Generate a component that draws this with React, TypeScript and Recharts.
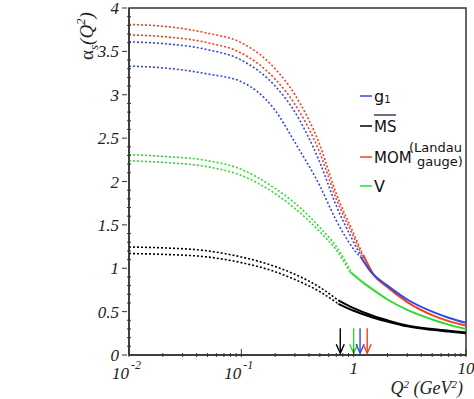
import { ComposedChart, Line, ReferenceArea, Scatter, XAxis, YAxis } from "recharts";

const BLUE = "#3348e0";
const RED = "#ef4023";
const GREEN = "#2edc2e";
const BLACK = "#000000";

// dotted (low Q^2) bands
const redDotX = [0.01, 0.02, 0.05, 0.1, 0.2, 0.3, 0.5, 0.7, 1.0, 1.22];
const redUpper = [3.81, 3.79, 3.71, 3.6, 3.3, 3.0, 2.42, 1.86, 1.4, 1.14];
const redLower = [3.69, 3.67, 3.6, 3.48, 3.18, 2.89, 2.33, 1.8, 1.36, 1.12];

const blueDotX = [0.01, 0.02, 0.05, 0.1, 0.2, 0.3, 0.5, 0.7, 1.0, 1.16];
const blueUpper = [3.61, 3.59, 3.52, 3.4, 3.1, 2.8, 2.22, 1.72, 1.3, 1.14];
const blueLower = [3.33, 3.31, 3.24, 3.15, 2.82, 2.45, 1.95, 1.55, 1.22, 1.12];

const greenDotX = [0.01, 0.02, 0.05, 0.1, 0.2, 0.3, 0.5, 0.7, 0.94];
const greenUpper = [2.31, 2.29, 2.24, 2.14, 1.92, 1.75, 1.47, 1.25, 0.97];
const greenLower = [2.24, 2.22, 2.17, 2.07, 1.86, 1.69, 1.42, 1.21, 0.94];

const blackDotX = [0.01, 0.02, 0.05, 0.1, 0.2, 0.3, 0.5, 0.73];
const blackUpper = [1.245, 1.235, 1.2, 1.13, 1.02, 0.93, 0.78, 0.63];
const blackLower = [1.17, 1.16, 1.13, 1.065, 0.96, 0.87, 0.73, 0.59];

// solid (high Q^2)
const redSolidX = [1.22, 1.5, 2, 3, 5, 7, 10];
const redSolid = [1.15, 0.93, 0.78, 0.61, 0.46, 0.39, 0.34];
const blueSolidX = [1.16, 1.42, 2, 3, 5, 7, 10];
const blueSolid = [1.13, 0.96, 0.8, 0.64, 0.5, 0.43, 0.37];
const greenSolidX = [0.94, 1.2, 1.5, 2, 3, 5, 7, 10];
const greenSolid = [0.955, 0.84, 0.75, 0.64, 0.52, 0.41, 0.35, 0.3];
const blackSolidX = [0.73, 1, 1.5, 2, 3, 5, 7, 10];
const blackSolidUp = [0.63, 0.54, 0.45, 0.4, 0.34, 0.3, 0.28, 0.26];
const blackSolidLo = [0.59, 0.51, 0.43, 0.385, 0.33, 0.29, 0.27, 0.25];

const arrowX = [0.76, 1.0, 1.14, 1.32];
const arrowColors = [BLACK, GREEN, BLUE, RED];

const xTicks = [
  0.01, 0.02, 0.03, 0.04, 0.05, 0.06, 0.07, 0.08, 0.09,
  0.1, 0.2, 0.3, 0.4, 0.5, 0.6, 0.7, 0.8, 0.9,
  1, 2, 3, 4, 5, 6, 7, 8, 9, 10,
];
const yTicks = [
  0, 0.1, 0.2, 0.3, 0.4, 0.5, 0.6, 0.7, 0.8, 0.9, 1, 1.1, 1.2, 1.3, 1.4, 1.5,
  1.6, 1.7, 1.8, 1.9, 2, 2.1, 2.2, 2.3, 2.4, 2.5, 2.6, 2.7, 2.8, 2.9, 3, 3.1,
  3.2, 3.3, 3.4, 3.5, 3.6, 3.7, 3.8, 3.9, 4,
];

const pts = (xs: number[], ys: number[]) => xs.map((x, i) => ({ x, y: ys[i] }));
const arrows = arrowX.map((x, i) => ({ x, y: 0.02, color: arrowColors[i] }));

const serif = "'Liberation Serif', 'DejaVu Serif', serif";

function XTick({ x, y, payload }: any) {
  const v = payload.value;
  const major = [0.01, 0.1, 1, 10].some((m) => Math.abs(v - m) < 1e-9);
  const exp = v === 0.01 ? "-2" : v === 0.1 ? "-1" : null;
  return (
    <g>
      <line x1={x} x2={x} y1={y} y2={y - (major ? 8 : 4)} stroke="#333" />
      {major && exp && (
        <text fontFamily={serif} fontStyle="italic" fill="#222">
          <tspan x={x} y={y + 22} fontSize={17} textAnchor="end">10</tspan>
          <tspan x={x + 2} y={y + 12} fontSize={12}>{exp}</tspan>
        </text>
      )}
      {major && !exp && (
        <text x={x} y={y + 17} fontSize={17} fontFamily={serif} fontStyle="italic" textAnchor="middle" fill="#222">
          {v}
        </text>
      )}
    </g>
  );
}

function YTick({ x, y, payload }: any) {
  const v = payload.value;
  const major = Math.abs(v * 2 - Math.round(v * 2)) < 1e-6;
  return (
    <g>
      {major ? (
        <line x1={x - 5} x2={x} y1={y} y2={y} stroke="#333" />
      ) : (
        <line x1={x} x2={x + 4} y1={y} y2={y} stroke="#333" />
      )}
      {major && (
        <text x={x - 8} y={y + 6} fontSize={17} fontFamily={serif} fontStyle="italic" textAnchor="end" fill="#222">
          {v}
        </text>
      )}
    </g>
  );
}

function ArrowMark({ cx, cy, payload }: any) {
  const c = payload.color;
  return (
    <g stroke={c} strokeWidth={1.4} fill="none">
      <line x1={cx} x2={cx} y1={cy - 25} y2={cy} />
      <polyline points={`${cx - 4},${cy - 9} ${cx},${cy} ${cx + 4},${cy - 9}`} />
    </g>
  );
}

function LegendBox() {
  const sans = "'DejaVu Sans', sans-serif";
  const rows = [
    { c: BLUE, y: 16 },
    { c: BLACK, y: 46 },
    { c: RED, y: 77 },
    { c: GREEN, y: 106 },
  ];
  return (
    <svg width={118} height={125} style={{ position: "absolute", left: 356, top: 80 }}>
      {rows.map((r, i) => (
        <line key={i} x1={4} x2={16} y1={r.y} y2={r.y} stroke={r.c} strokeWidth={1.5} />
      ))}
      <text fontFamily={sans} fill="#111">
        <tspan x={18} y={22} fontSize={16}>g</tspan>
        <tspan fontSize={10} dy={1}>1</tspan>
      </text>
      <text x={18} y={52} fontFamily={sans} fontSize={15} fill="#111">MS</text>
      <line x1={18} x2={40} y1={35} y2={35} stroke="#111" strokeWidth={1.2} />
      <text x={18} y={83} fontFamily={sans} fontSize={15} fill="#111">MOM</text>
      <text x={53} y={72} fontFamily={sans} fontSize={13} fill="#111">(Landau</text>
      <text x={61} y={86} fontFamily={sans} fontSize={13} fill="#111">gauge)</text>
      <text x={18} y={112} fontFamily={sans} fontSize={16} fill="#111">V</text>
    </svg>
  );
}

function YTitle() {
  return (
    <text transform="rotate(-90, 93, 36)" x={93} y={36} textAnchor="middle" fontFamily={serif} fontSize={19} fill="#222">
      <tspan fontStyle="normal">α</tspan>
      <tspan fontSize={13} fontStyle="italic" dy={5}>s</tspan>
      <tspan fontStyle="italic" dy={-5}>(Q</tspan>
      <tspan fontSize={13} fontStyle="italic" dy={-8}>2</tspan>
      <tspan fontStyle="italic" dy={8}>)</tspan>
    </text>
  );
}

function XTitle() {
  return (
    <text x={463} y={394} textAnchor="end" fontFamily={serif} fontStyle="italic" fontSize={18} fill="#222">
      <tspan>Q</tspan>
      <tspan fontSize={11} dy={-6}>2</tspan>
      <tspan dy={6}> (GeV</tspan>
      <tspan fontSize={11} dy={-6}>2</tspan>
      <tspan dy={6}>)</tspan>
    </text>
  );
}

const dotted = (key: string, data: any[], color: string) => (
  <Line
    key={key}
    data={data}
    dataKey="y"
    type="monotone"
    stroke={color}
    strokeWidth={1.6}
    strokeDasharray="2 2"
    dot={false}
    isAnimationActive={false}
  />
);

const solid = (key: string, data: any[], color: string) => (
  <Line
    key={key}
    data={data}
    dataKey="y"
    type="monotone"
    stroke={color}
    strokeWidth={2}
    dot={false}
    isAnimationActive={false}
  />
);

export default function App() {
  return (
    <div style={{ position: "absolute", left: 0, top: 0, width: 474, height: 399, background: "#fff" }}>
      <ComposedChart width={474} height={399} margin={{ top: 8, right: 8, bottom: 0, left: 0 }}>
        <XAxis
          dataKey="x"
          type="number"
          scale="log"
          domain={[0.01, 10]}
          allowDataOverflow
          ticks={xTicks}
          interval={0}
          tick={<XTick />}
          tickLine={false}
          tickSize={0}
          height={44}
          axisLine={{ stroke: "#333", strokeWidth: 1.5 }}
          label={{ content: () => <XTitle /> }}
        />
        <YAxis
          type="number"
          domain={[0, 4]}
          ticks={yTicks}
          interval={0}
          tick={<YTick />}
          tickLine={false}
          tickSize={0}
          width={129}
          axisLine={{ stroke: "#333", strokeWidth: 1.5 }}
          label={{ content: () => <YTitle /> }}
        />
        <ReferenceArea x1={0.01} x2={10} y1={0} y2={4} fill="none" stroke="#333" strokeWidth={1.5} />
        {dotted("ru", pts(redDotX, redUpper), RED)}
        {dotted("rl", pts(redDotX, redLower), RED)}
        {dotted("bu", pts(blueDotX, blueUpper), BLUE)}
        {dotted("bl", pts(blueDotX, blueLower), BLUE)}
        {dotted("gu", pts(greenDotX, greenUpper), GREEN)}
        {dotted("gl", pts(greenDotX, greenLower), GREEN)}
        {dotted("ku", pts(blackDotX, blackUpper), BLACK)}
        {dotted("kl", pts(blackDotX, blackLower), BLACK)}
        {solid("ks1", pts(blackSolidX, blackSolidUp), BLACK)}
        {solid("ks2", pts(blackSolidX, blackSolidLo), BLACK)}
        {solid("gs", pts(greenSolidX, greenSolid), GREEN)}
        {solid("rs", pts(redSolidX, redSolid), RED)}
        {solid("bs", pts(blueSolidX, blueSolid), BLUE)}
        <Scatter data={arrows} dataKey="y" shape={<ArrowMark />} isAnimationActive={false} />
      </ComposedChart>
      <LegendBox />
    </div>
  );
}
